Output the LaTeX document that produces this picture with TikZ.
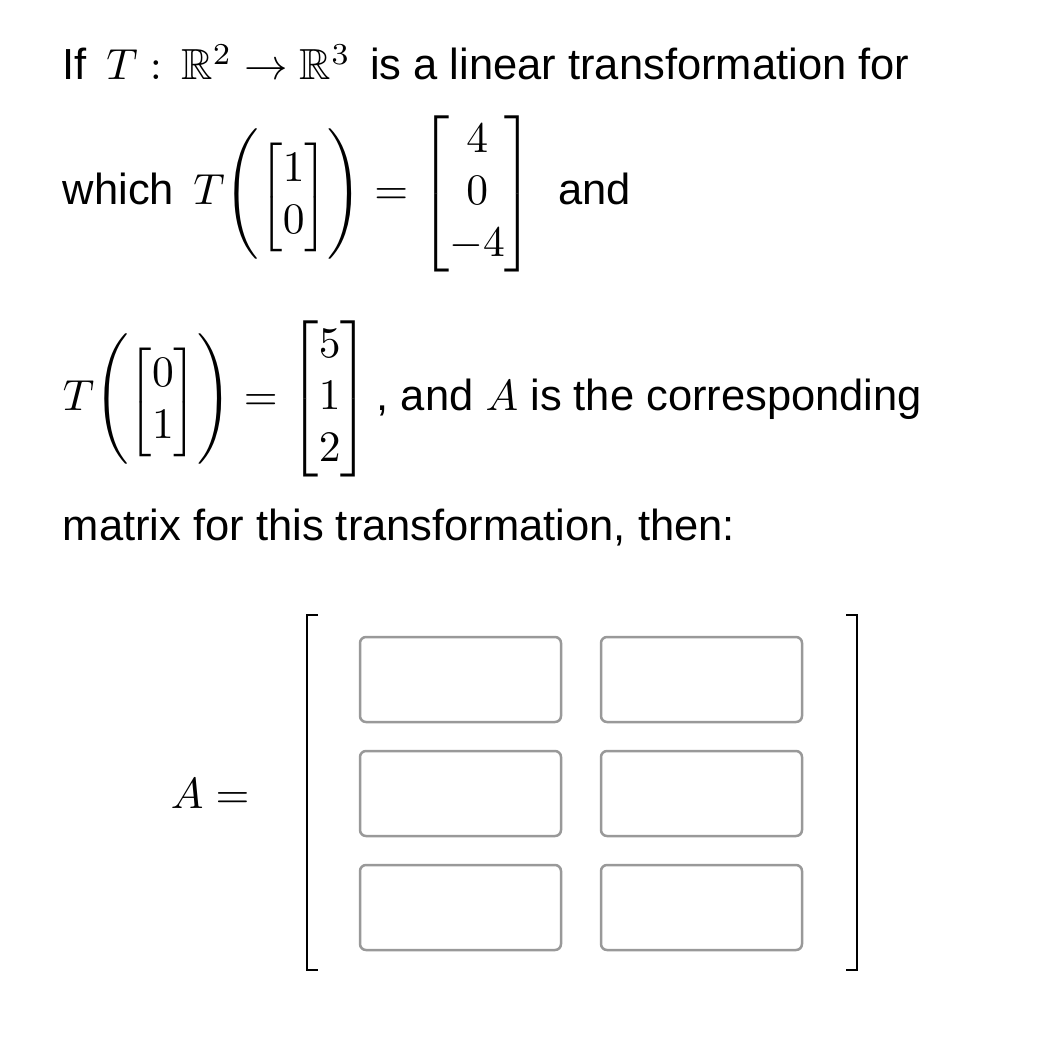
\documentclass[tikz,border=0pt]{standalone}
\usepackage{amsmath,amssymb}
\usepackage{fontspec}
\setmainfont{Liberation Sans}
\tikzset{txt/.style={anchor=base west,inner sep=0pt,font=\fontsize{10}{12}\selectfont,scale=4.35,transform shape},
ansbox/.style={draw=black!40,line width=2.5pt,rounded corners=6pt}}
\begin{document}
\begin{tikzpicture}[x=1pt,y=-1pt]
\useasboundingbox (0,0) rectangle (1052,1059);
\node[txt] (l1) at (62,80) {If \(\,T:\,\mathbb{R}^2\to\mathbb{R}^3\,\) is a linear transformation for};
\node[txt] (l2) at (62,205) {which \(\,T\!\left(\scriptstyle\begin{bmatrix}1\\0\end{bmatrix}\right)=\begin{bmatrix}4\\0\\-4\end{bmatrix}\;\) and};
\node[txt] (l3) at (62,410) {\(T\!\left(\scriptstyle\begin{bmatrix}0\\1\end{bmatrix}\right)=\begin{bmatrix}5\\1\\2\end{bmatrix}\,\), and \(A\) is the corresponding};
\node[txt] (l4) at (62,540) {matrix for this transformation, then:};
\node[txt] (aeq) at (170,808) {\(A=\)};
\draw[line width=2pt] (318,615) -- (307,615) -- (307,970) -- (318,970);
\draw[line width=2pt] (846,615) -- (857,615) -- (857,970) -- (846,970);
\foreach \r/\y in {1/637,2/751,3/865}{
 \draw[ansbox] (360,\y) rectangle (561,\y+85);
 \draw[ansbox] (601,\y) rectangle (802,\y+85);
}
\end{tikzpicture}
\end{document}
